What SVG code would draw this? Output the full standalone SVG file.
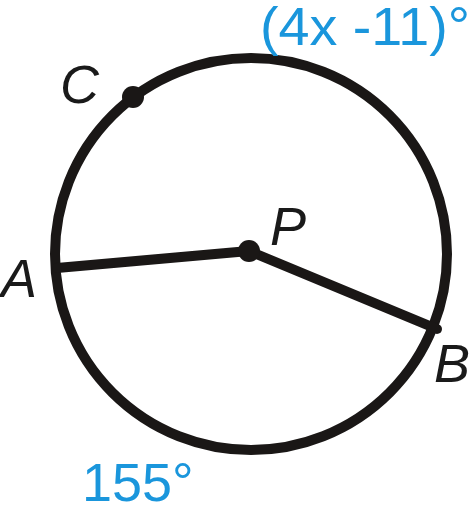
<svg xmlns="http://www.w3.org/2000/svg" width="474" height="505" viewBox="0 0 474 505">
<style>
.lbl{font-family:"Liberation Sans",Arial,sans-serif;font-style:italic;font-size:54px;fill:#1a1a1a}
.ang{font-family:"Liberation Sans",Arial,sans-serif;font-size:54px;fill:#1a96dc}
.edge{stroke:#1a1716;stroke-width:10;fill:none;stroke-linecap:round}
</style>
<rect width="474" height="505" fill="#ffffff"/>
<g id="circle"><circle cx="251" cy="254" r="196" fill="none" stroke="#1a1716" stroke-width="10"/></g>
<g id="connectors">
<line class="edge" x1="57" y1="268" x2="249" y2="251"/>
<line class="edge" x1="249" y1="251" x2="437" y2="329"/>
</g>
<g id="P"><circle cx="249" cy="251" r="11" fill="#1a1716"/><text class="lbl" x="270" y="245">P</text></g>
<g id="C"><circle cx="133" cy="97" r="11" fill="#1a1716"/><text class="lbl" x="60" y="103">C</text></g>
<g id="A"><text class="lbl" x="1" y="297">A</text></g>
<g id="B"><text class="lbl" x="434" y="382">B</text></g>
<g id="arc1"><text class="ang" x="260" y="45" textLength="210" lengthAdjust="spacingAndGlyphs">(4x -11)°</text></g>
<g id="arc2"><text class="ang" x="82" y="501">155°</text></g>
</svg>
